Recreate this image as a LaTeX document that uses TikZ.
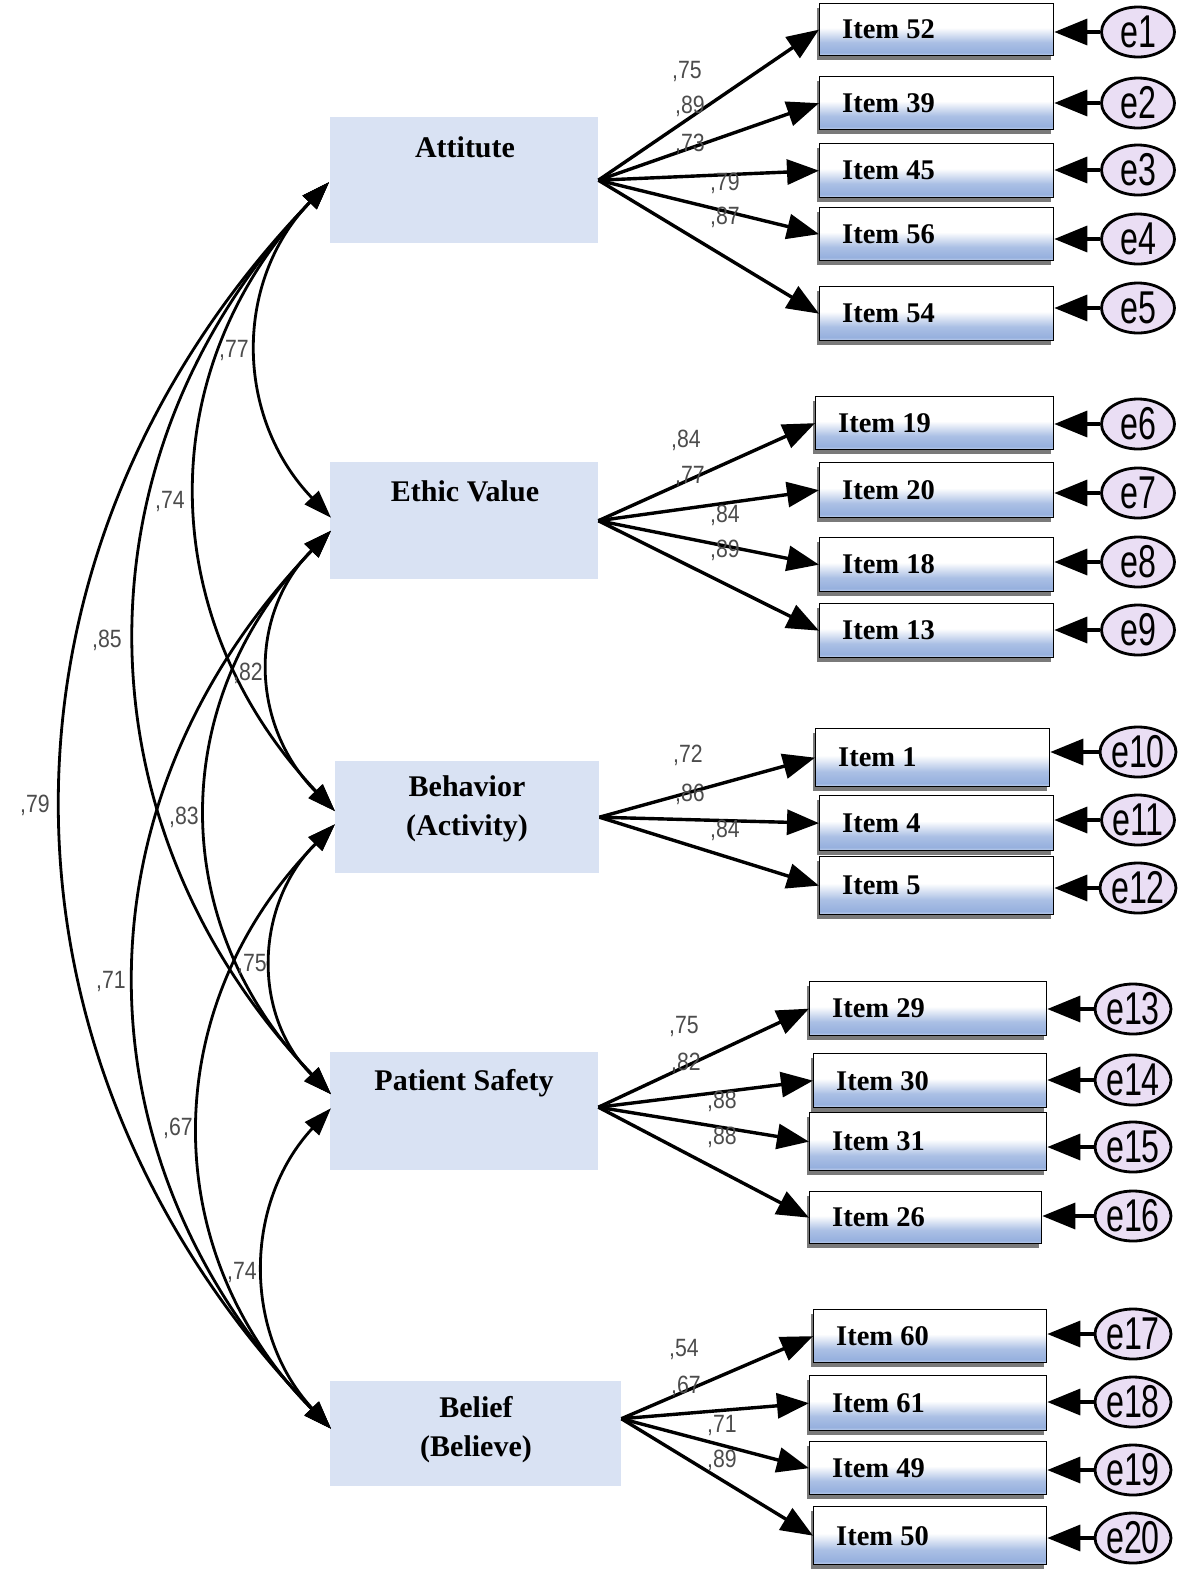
\documentclass[tikz,border=0pt]{standalone}
\usepackage{fontspec}
\setmainfont{Liberation Serif}
\newfontfamily\lblfont[FakeStretch=0.85]{Liberation Sans}
\newfontfamily\errfont[FakeStretch=0.7]{Liberation Sans}
\usetikzlibrary{arrows.meta,shapes.geometric,shadows,calc}
\definecolor{latfill}{RGB}{217,226,243}
\definecolor{itemblue}{RGB}{150,176,222}
\colorlet{itemblueA}{itemblue!55!white}
\colorlet{itemblueB}{itemblue!80!white}
\definecolor{errfill}{RGB}{234,222,244}
\pgfdeclareverticalshading{itemshade}{100bp}{color(0bp)=(itemblue); color(25bp)=(itemblueA); color(28bp)=(itemblue); color(38bp)=(itemblueB); color(52bp)=(white); color(75bp)=(white); color(100bp)=(white)}
\tikzset{
 latbox/.style={fill=latfill, draw=none, inner sep=0pt, anchor=north west},
 lattext/.style={font=\fontsize{30}{39}\selectfont\bfseries, align=center, inner sep=0pt},
 itembox/.style={draw=black, line width=1.3pt, shading=itemshade, inner sep=0pt, anchor=north west, drop shadow={shadow xshift=-3pt, shadow yshift=-4pt, fill=black!65, opacity=0.8}},
 itemtext/.style={font=\fontsize{28.5}{30}\selectfont\bfseries, inner sep=0pt, anchor=west},
 errnode/.style={ellipse, draw=black, line width=2.8pt, fill=errfill, minimum width=73pt, minimum height=50pt, inner sep=0pt, font=\errfont\fontsize{46}{46}\selectfont},
 loadarrow/.style={-{Triangle[length=32pt,width=25pt]}, line width=3.4pt},
 errarrow/.style={-{Triangle[length=33pt,width=26pt]}, line width=3.4pt},
 corr/.style={{Triangle[length=28pt,width=19pt]}-{Triangle[length=28pt,width=19pt]}, line width=2.8pt},
 lbl/.style={font=\lblfont\fontsize{25}{25}\selectfont, text=black!70, inner sep=0pt},
}
\newcommand\itm[6]{\node[itembox, minimum width={#4-#2}, minimum height={#5-#3}] (#1) at (#2,#3) {};\node[itemtext] (#1t) at ($(#1.west)+(23,0)$) {#6};}
\newcommand\errnd[4]{\node[errnode] (#1) at (#2,#3) {#4};}
\begin{document}
\begin{tikzpicture}[x=1pt,y=-1pt]
\useasboundingbox (0,0) rectangle (1200,1583);
\fill[white] (0,0) rectangle (1200,1583);
% latent boxes
\node[latbox, minimum width=268, minimum height=126] (att) at (330,117) {};
\node[lattext] (attt) at (465,147) {Attitute};
\node[latbox, minimum width=268, minimum height=117] (eth) at (330,462) {};
\node[lattext] (etht) at (465,491) {Ethic Value};
\node[latbox, minimum width=264, minimum height=112] (beh) at (335,761) {};
\node[lattext] (beht) at (467,809) {Behavior\\(Activity)};
\node[latbox, minimum width=268, minimum height=118] (pat) at (330,1052) {};
\node[lattext] (patt) at (464,1083) {Patient Safety};
\node[latbox, minimum width=291, minimum height=105] (bel) at (330,1381) {};
\node[lattext] (belt) at (476,1430) {Belief\\(Believe)};
% items
\itm{i52}{819}{3}{1053}{55}{Item 52}
\itm{i39}{819}{76}{1053}{129}{Item 39}
\itm{i45}{819}{143}{1053}{197}{Item 45}
\itm{i56}{819}{207}{1053}{260}{Item 56}
\itm{i54}{819}{286}{1053}{340}{Item 54}
\itm{i19}{815}{396}{1053}{449}{Item 19}
\itm{i20}{819}{462}{1053}{517}{Item 20}
\itm{i18}{819}{537}{1053}{591}{Item 18}
\itm{i13}{819}{603}{1053}{657}{Item 13}
\itm{i1}{815}{728}{1049}{786}{Item 1}
\itm{i4}{819}{795}{1053}{850}{Item 4}
\itm{i5}{819}{856}{1053}{914}{Item 5}
\itm{i29}{809}{981}{1046}{1035}{Item 29}
\itm{i30}{813}{1053}{1046}{1107}{Item 30}
\itm{i31}{809}{1112}{1046}{1170}{Item 31}
\itm{i26}{809}{1191}{1041}{1243}{Item 26}
\itm{i60}{813}{1309}{1046}{1362}{Item 60}
\itm{i61}{809}{1375}{1046}{1430}{Item 61}
\itm{i49}{809}{1441}{1046}{1494}{Item 49}
\itm{i50}{813}{1506}{1046}{1564}{Item 50}
% errors
\errnd{e1}{1138}{32}{e1}
\errnd{e2}{1138}{103}{e2}
\errnd{e3}{1138}{170}{e3}
\errnd{e4}{1138}{239}{e4}
\errnd{e5}{1138}{308}{e5}
\errnd{e6}{1138}{424}{e6}
\errnd{e7}{1138}{493}{e7}
\errnd{e8}{1138}{562}{e8}
\errnd{e9}{1138}{630}{e9}
\errnd{e10}{1138}{752}{e10}
\errnd{e11}{1138}{820}{e11}
\errnd{e12}{1138}{888}{e12}
\errnd{e13}{1133}{1009}{e13}
\errnd{e14}{1133}{1080}{e14}
\errnd{e15}{1133}{1147}{e15}
\errnd{e16}{1133}{1216}{e16}
\errnd{e17}{1133}{1334}{e17}
\errnd{e18}{1133}{1402}{e18}
\errnd{e19}{1133}{1470}{e19}
\errnd{e20}{1133}{1538}{e20}
\foreach \e/\i in {e1/i52,e2/i39,e3/i45,e4/i56,e5/i54,e6/i19,e7/i20,e8/i18,e9/i13,e10/i1,e11/i4,e12/i5,e13/i29,e14/i30,e15/i31,e16/i26,e17/i60,e18/i61,e19/i49,e20/i50}
  \draw[errarrow] (\e.west) -- (\e.west -| \i.east);
% loading origins
\coordinate (oA) at (att.east);
\coordinate (oE) at (eth.east);
\coordinate (oB) at (beh.east);
\coordinate (oP) at ($(pat.east)+(0,-4)$);
\coordinate (oL) at ($(bel.east)+(0,-15)$);
\foreach \i in {i52,i39,i45,i56,i54} \draw[loadarrow] (oA) -- (\i.west);
\foreach \i in {i19,i20,i18,i13} \draw[loadarrow] (oE) -- (\i.west);
\foreach \i in {i1,i4,i5} \draw[loadarrow] (oB) -- (\i.west);
\foreach \i in {i29,i30,i31,i26} \draw[loadarrow] (oP) -- (\i.west);
\foreach \i in {i60,i61,i49,i50} \draw[loadarrow] (oL) -- (\i.west);
% loading labels
\node[lbl] (la1) at (687,71) {,75};
\node[lbl] (la2) at (690,106) {,89};
\node[lbl] (la3) at (690,144) {,73};
\node[lbl] (la4) at (725,183) {,79};
\node[lbl] (la5) at (725,217) {,87};
\node[lbl] (le1) at (686,440) {,84};
\node[lbl] (le2) at (690,476) {,77};
\node[lbl] (le3) at (725,515) {,84};
\node[lbl] (le4) at (725,550) {,89};
\node[lbl] (lb1) at (688,755) {,72};
\node[lbl] (lb2) at (690,794) {,86};
\node[lbl] (lb3) at (725,830) {,84};
\node[lbl] (lp1) at (684,1026) {,75};
\node[lbl] (lp2) at (686,1063) {,82};
\node[lbl] (lp3) at (722,1101) {,88};
\node[lbl] (lp4) at (722,1137) {,88};
\node[lbl] (ll1) at (684,1349) {,54};
\node[lbl] (ll2) at (686,1386) {,67};
\node[lbl] (ll3) at (722,1425) {,71};
\node[lbl] (ll4) at (722,1460) {,89};
% correlation attach points
\coordinate (cA) at ($(att.west)+(-1,2)$);
\coordinate (cEu) at ($(eth.west)+(1,-3)$);
\coordinate (cEl) at ($(eth.west)+(1,10)$);
\coordinate (cBu) at ($(beh.west)+(0,-6)$);
\coordinate (cBl) at ($(beh.west)+(0,7)$);
\coordinate (cPu) at ($(pat.west)+(1,-17)$);
\coordinate (cPl) at ($(pat.west)+(1,-3)$);
\coordinate (cL) at ($(bel.west)+(1,-5)$);
\draw[corr] (cA) .. controls +(-96,100) and +(-96,-100) .. (cEu);
\draw[corr] (cA) .. controls +(-180,190) and +(-180,-190) .. (cBu);
\draw[corr] (cA) .. controls +(-258,270) and +(-258,-270) .. (cPu);
\draw[corr] (cA) .. controls +(-356,370) and +(-356,-370) .. (cL);
\draw[corr] (cEl) .. controls +(-84,85) and +(-84,-85) .. (cBu);
\draw[corr] (cEl) .. controls +(-165,170) and +(-165,-170) .. (cPu);
\draw[corr] (cEl) .. controls +(-260,270) and +(-260,-270) .. (cL);
\draw[corr] (cBl) .. controls +(-80,80) and +(-80,-80) .. (cPu);
\draw[corr] (cBl) .. controls +(-177,180) and +(-177,-180) .. (cL);
\draw[corr] (cPl) .. controls +(-88,95) and +(-88,-95) .. (cL);
% correlation labels
\node[lbl] (c1) at (234,350) {,77};
\node[lbl] (c2) at (170,501) {,74};
\node[lbl] (c3) at (107,640) {,85};
\node[lbl] (c4) at (35,805) {,79};
\node[lbl] (c5) at (248,673) {,82};
\node[lbl] (c6) at (184,817) {,83};
\node[lbl] (c7) at (111,981) {,71};
\node[lbl] (c8) at (252,964) {,75};
\node[lbl] (c9) at (178,1128) {,67};
\node[lbl] (c10) at (242,1272) {,74};
\end{tikzpicture}
\end{document}
